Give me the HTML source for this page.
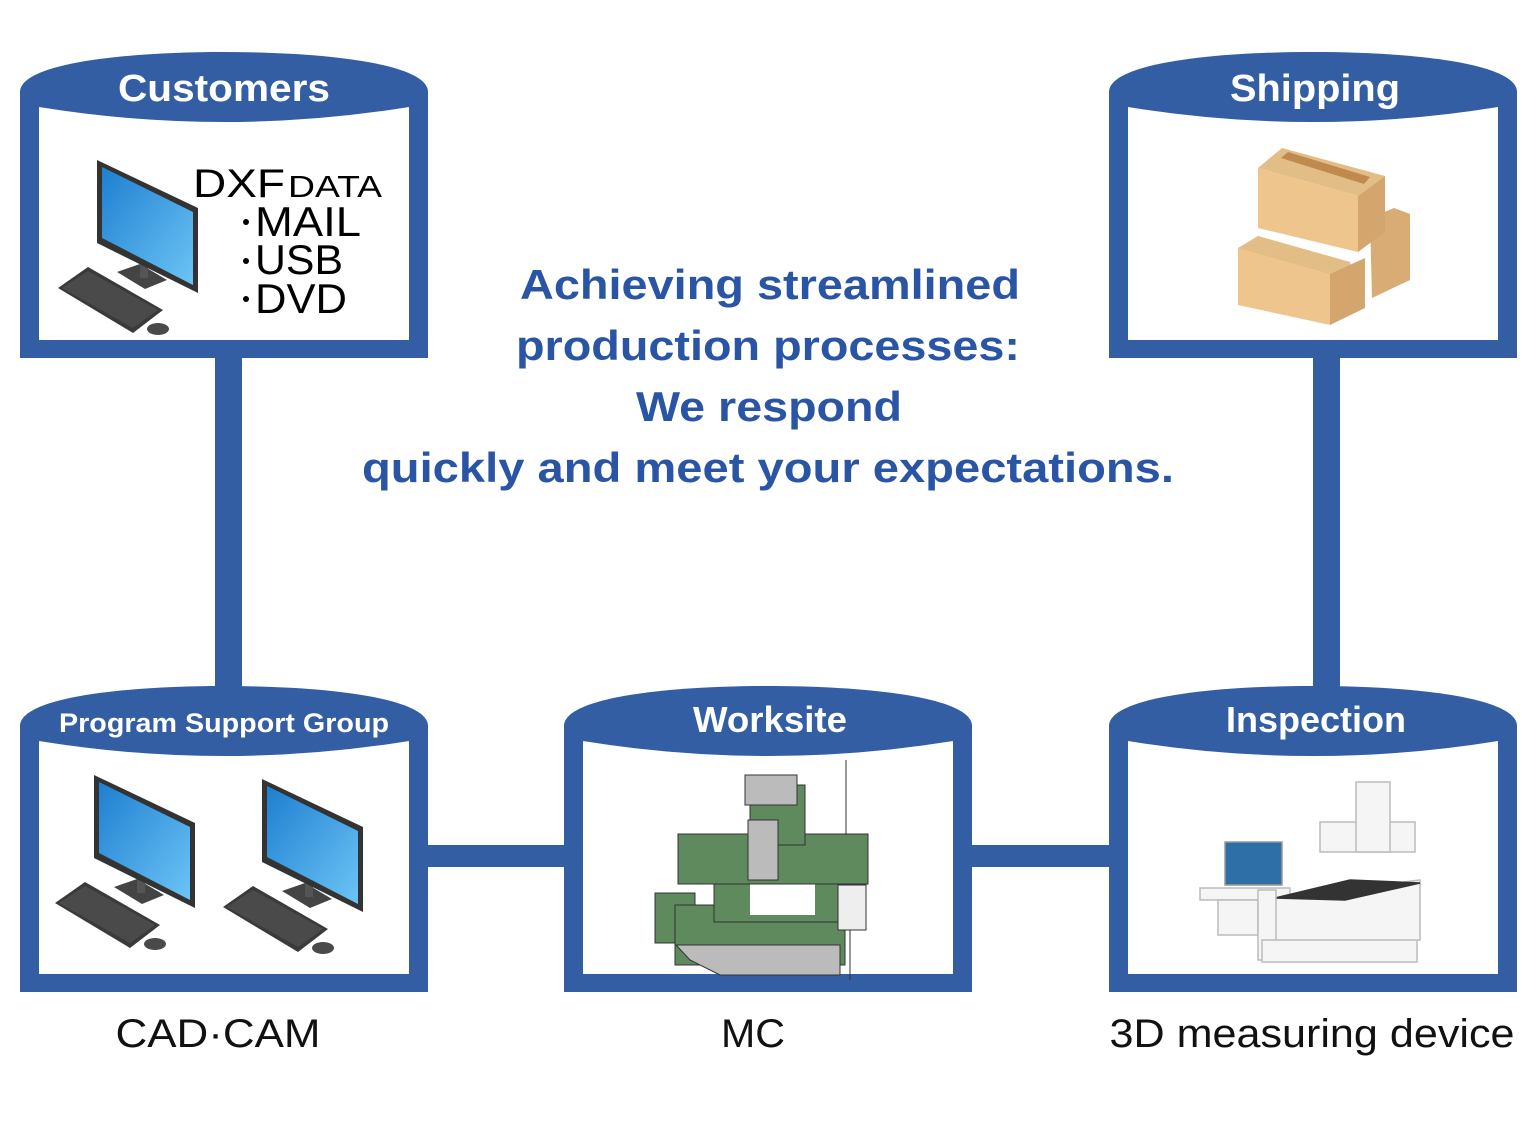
<!DOCTYPE html>
<html><head><meta charset="utf-8"><style>
html,body{margin:0;padding:0;background:#fff;}
svg{display:block;}
</style></head><body>
<svg width="1536" height="1134" viewBox="0 0 1536 1134" xmlns="http://www.w3.org/2000/svg">
<defs>
<linearGradient id="scr" x1="0" y1="0" x2="1" y2="1">
<stop offset="0" stop-color="#1e7fd0"/><stop offset="1" stop-color="#6cc4f5"/>
</linearGradient>
<g id="box">
<path d="M0,40 C0,12 100,0 204,0 C308,0 408,12 408,40 L408,306 L0,306 Z" fill="#335ea3"/>
<path d="M19,55 Q204,85 389,55 L389,288 L19,288 Z" fill="#fff"/>
</g>
<g id="pc">
<polygon points="58,288 88,267 163,310 133,333" fill="#3a3a3a"/>
<polygon points="62,288 88,271 158,310 133,328" fill="#555" opacity="0.6"/>
<ellipse cx="158" cy="329" rx="11" ry="6" fill="#4a4a4a"/>
<polygon points="117,272 140,264 167,280 145,289" fill="#444"/>
<rect x="140" y="258" width="8" height="20" fill="#555"/>
<polygon points="97,160 198,208 198,293 97,243" fill="#333"/>
<polygon points="102,167 193,212 193,285 102,238" fill="url(#scr)"/>
</g>
</defs>

<rect x="215" y="350" width="27" height="345" fill="#335ea3"/>
<rect x="1313" y="350" width="27" height="345" fill="#335ea3"/>
<rect x="420" y="845" width="152" height="22" fill="#335ea3"/>
<rect x="965" y="845" width="152" height="22" fill="#335ea3"/>

<use href="#box" x="20" y="52"/>
<use href="#box" x="1109" y="52"/>
<use href="#box" x="20" y="686"/>
<use href="#box" x="564" y="686"/>
<use href="#box" x="1109" y="686"/>

<g font-family="Liberation Sans, sans-serif" font-weight="bold" fill="#fff" text-anchor="middle">
<text x="224" y="101" font-size="38" textLength="212" lengthAdjust="spacingAndGlyphs">Customers</text>
<text x="1315" y="101" font-size="38" textLength="170" lengthAdjust="spacingAndGlyphs">Shipping</text>
<text x="224" y="732" font-size="27" textLength="330" lengthAdjust="spacingAndGlyphs">Program Support Group</text>
<text x="770" y="732" font-size="36" textLength="154" lengthAdjust="spacingAndGlyphs">Worksite</text>
<text x="1316" y="732" font-size="36" textLength="180" lengthAdjust="spacingAndGlyphs">Inspection</text>
</g>

<use href="#pc"/>
<g font-family="Liberation Sans, sans-serif" fill="#000">
<text x="193" y="197" font-size="40" textLength="92" lengthAdjust="spacingAndGlyphs">DXF</text>
<text x="288" y="197" font-size="31" textLength="94" lengthAdjust="spacingAndGlyphs">DATA</text>
<circle cx="246" cy="222" r="3"/><circle cx="246" cy="261" r="3"/><circle cx="246" cy="299" r="3"/>
<text x="255" y="236" font-size="42" textLength="106" lengthAdjust="spacingAndGlyphs">MAIL</text>
<text x="255" y="274" font-size="42" textLength="88" lengthAdjust="spacingAndGlyphs">USB</text>
<text x="255" y="313" font-size="42" textLength="92" lengthAdjust="spacingAndGlyphs">DVD</text>
</g>

<use href="#pc" x="-3" y="615"/>
<use href="#pc" x="165" y="619"/>

<g>
<polygon points="1370,218 1394,208 1410,214 1410,280 1372,298" fill="#d8ac74"/>
<polygon points="1238,248 1258,236 1350,262 1355,282 1330,300" fill="#e2bd86"/>
<polygon points="1238,248 1330,274 1330,325 1238,305" fill="#efc58e"/>
<polygon points="1330,274 1365,258 1365,308 1330,325" fill="#d4a66d"/>
<polygon points="1258,168 1282,148 1385,176 1358,196" fill="#e2bd86"/>
<polygon points="1258,168 1358,196 1358,252 1258,228" fill="#efc58e"/>
<polygon points="1358,196 1385,176 1385,232 1358,252" fill="#d4a66d"/>
<polygon points="1281,158 1288,152 1370,177 1364,184" fill="#c08a4e"/>
</g>

<g stroke="#333" stroke-width="1">
<rect x="655" y="893" width="40" height="50" fill="#5e8a5e"/>
<rect x="675" y="905" width="170" height="60" fill="#5e8a5e"/>
<polygon points="676,945 840,945 840,975 720,975 690,960" fill="#bbb"/>
<rect x="714" y="862" width="150" height="60" fill="#5e8a5e"/>
<rect x="750" y="880" width="65" height="35" fill="#fff" stroke="none"/>
<rect x="678" y="834" width="190" height="50" fill="#5e8a5e"/>
<rect x="750" y="785" width="55" height="60" fill="#5e8a5e"/>
<rect x="745" y="775" width="52" height="30" fill="#bbb"/>
<rect x="748" y="820" width="30" height="60" fill="#bbb"/>
<rect x="838" y="885" width="28" height="45" fill="#eee"/>
<line x1="846" y1="760" x2="846" y2="835"/>
<line x1="850" y1="930" x2="850" y2="980"/>
</g>

<g stroke="#bbb" stroke-width="1.5" fill="#f5f5f5">
<rect x="1200" y="888" width="90" height="12"/>
<rect x="1218" y="900" width="40" height="35"/>
<polygon points="1225,842 1282,842 1282,885 1225,885" fill="#2f6fa8" stroke="#999"/>
<rect x="1320" y="822" width="95" height="30"/>
<rect x="1356" y="782" width="34" height="70"/>
<polygon points="1275,898 1420,880 1420,940 1275,958"/>
<polygon points="1275,898 1350,880 1420,883 1345,900" fill="#333" stroke="#333"/>
<rect x="1258" y="890" width="18" height="70"/>
<rect x="1262" y="940" width="155" height="22"/>
</g>

<g font-family="Liberation Sans, sans-serif" font-weight="bold" fill="#2a55a5" text-anchor="middle" font-size="42">
<text x="770" y="299" textLength="500" lengthAdjust="spacingAndGlyphs">Achieving streamlined</text>
<text x="768" y="360" textLength="504" lengthAdjust="spacingAndGlyphs">production processes:</text>
<text x="769" y="421" textLength="266" lengthAdjust="spacingAndGlyphs">We respond</text>
<text x="768" y="482" textLength="812" lengthAdjust="spacingAndGlyphs">quickly and meet your expectations.</text>
</g>

<g font-family="Liberation Sans, sans-serif" fill="#111" text-anchor="middle" font-size="40">
<text x="218" y="1047" textLength="205" lengthAdjust="spacingAndGlyphs">CAD·CAM</text>
<text x="753" y="1047" textLength="64" lengthAdjust="spacingAndGlyphs">MC</text>
<text x="1312" y="1047" textLength="405" lengthAdjust="spacingAndGlyphs">3D measuring device</text>
</g>
</svg>
</body></html>
